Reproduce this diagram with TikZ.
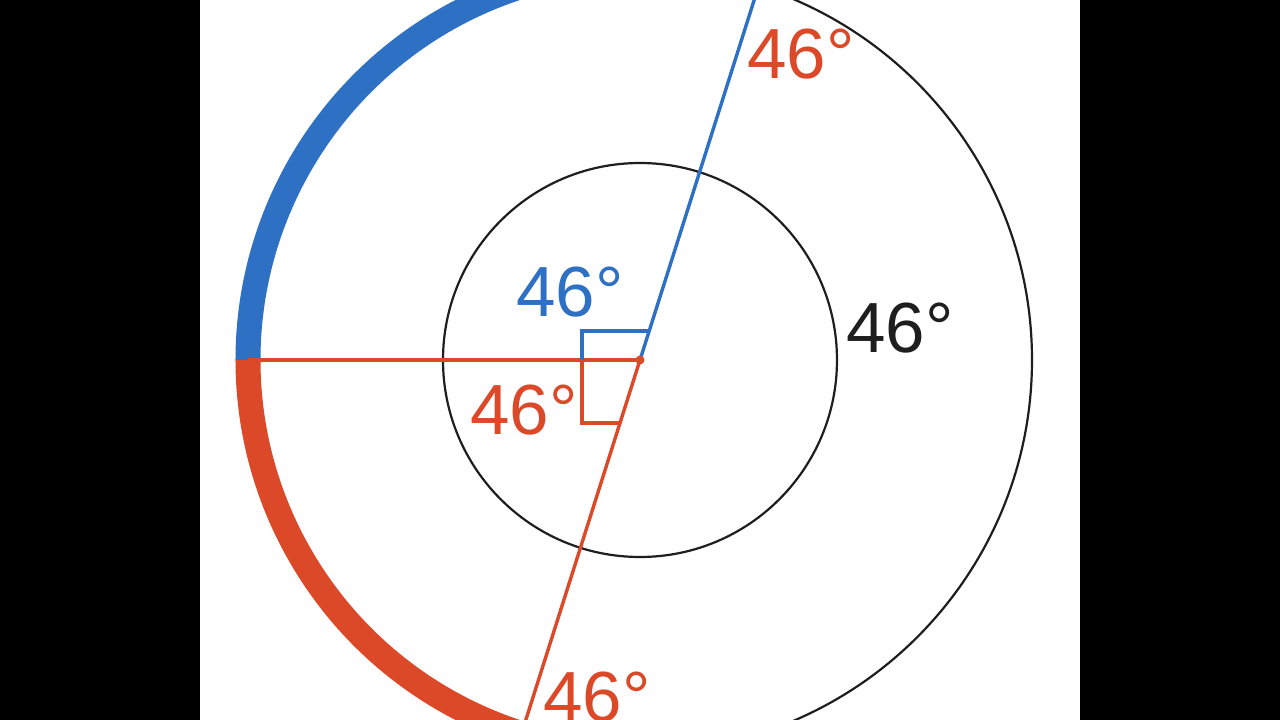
\documentclass[tikz,border=0pt]{standalone}
\usepackage{fontspec}
\setmainfont{Liberation Sans}
\usepackage{tikz}
\usetikzlibrary{arrows}
\definecolor{myblue}{RGB}{45,112,196}
\definecolor{myred}{RGB}{219,73,40}
\definecolor{mygray}{RGB}{30,30,30}
\begin{document}
\begin{tikzpicture}[x=1pt,y=1pt,line cap=butt,
  deg node/.style={inner sep=0pt,font=\fontsize{71}{71}\selectfont},
  thick arc/.style={line width=25pt},
  ring/.style={draw=mygray,line width=2.2pt}]
  \useasboundingbox (-640,-360) rectangle (640,360);
  \fill[black] (-640,-360) rectangle (640,360);
  \fill[white] (-440,-360) rectangle (440,360);
  \clip (-440,-360) rectangle (440,360);

  \coordinate (O) at (0,0);
  \coordinate (L) at (180:392);
  \coordinate (U) at (72.4:392);
  \coordinate (D) at (252.4:392);
  \coordinate (b1) at (-58,0);
  \coordinate (b2) at (-58,29);
  \coordinate (b3) at (9.2,29);
  \coordinate (r2) at (-58,-63);
  \coordinate (r3) at (-20,-63);

  \draw[ring] (O) circle (392);
  \draw[ring] (O) circle (197);
  \draw[thick arc,myblue] (L) arc (180:107.6:392);
  \draw[thick arc,myred] (L) arc (180:252.4:392);

  \path[line width=3.4pt]
    (O) edge[myblue] (U)
    (O) edge[myred] (D)
    (L) edge[myred] (O);
  \draw[myblue,line width=3.2pt] (b1) -- (b2) -- (b3);
  \draw[myred,line width=3.2pt] (b1) -- (r2) -- (r3);
  \fill[myred] (O) circle (4.5);

  \node[deg node,myred] (1) at (161,306) {46°};
  \node[deg node,myblue] (2) at (-70,68) {46°};
  \node[deg node,mygray] (3) at (260,32) {46°};
  \node[deg node,myred] (4) at (-116,-50) {46°};
  \node[deg node,myred] (5) at (-43,-337) {46°};
\end{tikzpicture}
\end{document}
